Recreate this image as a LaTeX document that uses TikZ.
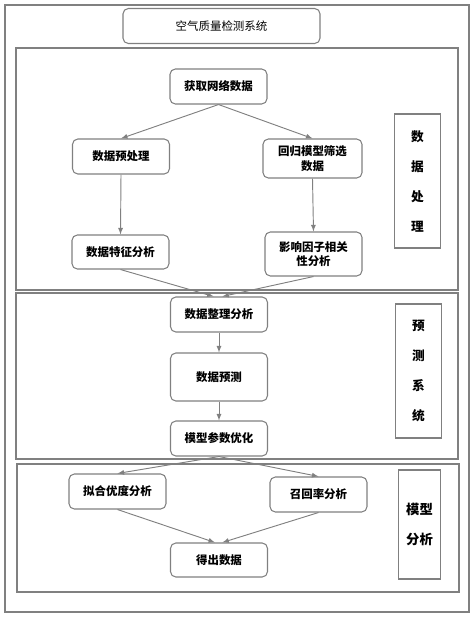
\documentclass[tikz,border=0pt]{standalone}
\usepackage{fontspec}
\setmainfont{Noto Sans CJK SC}
\usepackage{tikz}
\usetikzlibrary{shapes.geometric, arrows}

\tikzset{
	flowbox/.style={draw=gray, rounded corners=4pt, line width=0.8pt, minimum width=72.75pt, minimum height=26.25pt, inner sep=1pt, align=center, font=\bfseries\fontsize{8.6}{11}\selectfont},
	tagbox/.style={draw=gray, line width=0.8pt, minimum width=35pt, align=center, font=\bfseries\fontsize{9.5}{22.5}\selectfont},
	frame/.style={draw=gray, line width=0.9pt},
	link/.style={->, >=latex, draw=gray, line width=0.7pt}
}

\begin{document}
\begin{tikzpicture}[x=0.75pt, y=-0.75pt]
			
			\useasboundingbox (0,0) rectangle (474,618);
			
			% frames
			\draw[frame] (5,5) rectangle (469,612);
			\draw[frame] (16,48) rectangle (458,290);
			\draw[frame] (16,293) rectangle (458,459);
			\draw[frame] (17,464) rectangle (459,592);
			
			\node[flowbox, minimum width=147.75pt, font=\fontsize{8.6}{11}\selectfont] (title) at (221.5,26) {空气质量检测系统};
			
			% data processing
			\node[flowbox] (fetch) at (218.5,86.5) {获取网络数据};
			\node[flowbox] (prep) at (121,156.5) {数据预处理};
			\node[flowbox, minimum width=74.25pt, minimum height=29.25pt] (regress) at (312.5,158.5) {回归模型筛选\\数据};
			\node[flowbox, minimum height=25.5pt] (feature) at (120.5,252) {数据特征分析};
			\node[flowbox, minimum height=33pt] (factor) at (313.5,254) {影响因子相关\\性分析};
			\node[tagbox, minimum height=100.5pt] (tagA) at (417.5,181) {数\\据\\处\\理};
			
			% prediction
			\node[flowbox] (tidy) at (219,314.5) {数据整理分析};
			\node[flowbox, minimum height=36pt] (predict) at (219,377) {数据预测};
			\node[flowbox] (optim) at (219,438.5) {模型参数优化};
			\node[tagbox, minimum height=100.5pt] (tagB) at (418.5,371) {预\\测\\系\\统};
			
			% model analysis
			\node[flowbox] (fit) at (117.5,491.5) {拟合优度分析};
			\node[flowbox] (recall) at (318.5,494.5) {召回率分析};
			\node[flowbox, minimum height=25.5pt] (output) at (219,560) {得出数据};
			\node[tagbox, minimum width=32pt, minimum height=81.75pt, font=\bfseries\fontsize{10}{22}\selectfont] (tagC) at (419.5,524.5) {模型\\分析};
			
			\foreach \a/\b in {fetch/prep, fetch/regress, prep/feature, regress/factor, tidy/predict, predict/optim, optim/fit, optim/recall}
			{
				\draw[link] (\a.south) -- (\b.north);
			}
			\draw[link] (feature.south) -- ([xshift=-4pt]tidy.north);
			\draw[link] (factor.south) -- ([xshift=2.5pt]tidy.north);
			\draw[link] (fit.south) -- ([xshift=-3pt]output.north);
			\draw[link] (recall.south) -- ([xshift=2.5pt]output.north);
			\end{tikzpicture}
\end{document}
